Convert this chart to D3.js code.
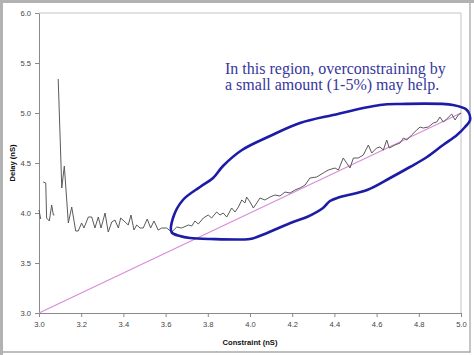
<!DOCTYPE html>
<html><head><meta charset="utf-8">
<script src="https://cdn.jsdelivr.net/npm/d3@7"></script>
<style>html,body{margin:0;padding:0;background:#fff;}svg{display:block;}</style>
</head><body>
<script>
// ---- data ----
const xTicks = [3.0,3.2,3.4,3.6,3.8,4.0,4.2,4.4,4.6,4.8,5.0];
const yTicks = [3.0,3.5,4.0,4.5,5.0,5.5,6.0];
const constraint = [3.000,3.008,null,3.020,3.032,3.036,3.049,3.060,3.068,3.073,null,
3.091,3.108,3.120,3.139,3.155,3.174,3.186,3.202,3.213,3.234,3.250,3.265,3.281,3.294,3.313,3.328,3.345,3.360,3.376,3.387,
3.408,3.423,3.436,3.450,3.463,3.479,3.494,3.513,3.529,3.545,3.565,3.582,3.605,3.629,3.653,3.676,3.708,3.724,3.739,3.755,
3.779,3.802,3.818,3.842,3.858,3.873,3.890,3.913,3.929,3.945,3.961,3.976,3.984,4.000,4.016,4.032,4.047,4.071,4.095,4.118,
4.142,4.166,4.190,4.213,4.237,4.261,4.284,4.316,4.347,4.371,4.403,4.419,4.442,4.458,4.474,4.490,4.513,4.537,4.561,4.577,
4.600,4.616,4.632,4.648,4.660,4.687,4.711,4.727,4.743,4.766,4.790,4.806,4.821,4.845,4.869,4.885,4.900,4.916,4.932,4.956,
4.972,4.987,5.000];
const delay = [4.03,3.94,null,4.31,4.30,3.95,3.92,4.08,3.98,3.98,null,
5.34,4.25,4.47,3.90,4.06,3.82,3.82,3.90,3.85,3.96,3.96,3.85,3.96,3.85,4.00,3.81,3.91,3.93,3.85,3.95,
3.91,3.88,3.98,3.83,3.88,3.85,3.85,3.94,3.85,3.92,3.83,3.85,3.85,3.81,3.86,3.85,3.88,3.87,3.92,3.89,
3.95,3.98,3.95,4.01,3.98,4.00,3.96,4.05,4.01,4.06,4.13,4.10,4.16,4.11,4.05,4.10,4.15,4.13,4.16,4.18,
4.17,4.21,4.20,4.23,4.25,4.28,4.35,4.36,4.40,4.43,4.45,4.43,4.55,4.50,4.45,4.55,4.55,4.58,4.68,4.60,
4.65,4.66,4.63,4.73,4.65,4.68,4.70,4.75,4.73,4.78,4.83,4.86,4.85,4.86,4.90,4.91,4.96,4.91,4.94,4.99,
4.93,4.98,5.00];
const idealX = [3.0,5.0];
const idealY = [3.0,5.0];
// hand-drawn highlight loop, in data units
const loopX = [3.628,3.635,3.682,3.763,3.825,3.872,3.962,4.095,4.237,4.393,4.616,4.711,4.962,5.028,5.043,5.019,4.981,4.915,4.839,4.758,4.664,4.555,4.427,4.379,4.346,4.270,4.204,4.081,4.033,4.000,3.810,3.716,3.668];
const loopY = [3.81,3.95,4.13,4.26,4.35,4.47,4.63,4.77,4.90,4.98,5.08,5.09,5.08,5.03,4.93,4.86,4.78,4.68,4.56,4.46,4.35,4.23,4.16,4.12,4.05,3.96,3.91,3.80,3.76,3.74,3.74,3.75,3.77];
const noteLines = ["In this region, overconstraining by","a small amount (1-5%) may help."];

// ---- drawing ----
const W = 474, H = 355;
const svg = d3.select("body").append("svg").attr("width", W).attr("height", H);
svg.append("rect").attr("width", W).attr("height", H).attr("fill", "#fff");

// outer frame
svg.append("rect").attr("x",0).attr("y",0).attr("width",W).attr("height",3).attr("fill","#b2b2b2");
svg.append("rect").attr("x",0).attr("y",0).attr("width",3).attr("height",H).attr("fill","#b2b2b2");
svg.append("line").attr("x1",470).attr("x2",470).attr("y1",3).attr("y2",352.5).attr("stroke","#a8a8a8").attr("stroke-width",1.3);
svg.append("line").attr("x1",3).attr("x2",470.6).attr("y1",352).attr("y2",352).attr("stroke","#a8a8a8").attr("stroke-width",1.3);

const x = d3.scaleLinear().domain([3.0,5.0]).range([39,461]);
const y = d3.scaleLinear().domain([3.0,6.0]).range([313,13]);

// plot area border (top/right)
svg.append("path").attr("d", `M${x(3.0)},${y(6.0)}H${x(5.0)}V${y(3.0)}`)
  .attr("fill","none").attr("stroke","#c4c4c4").attr("stroke-width",1);

const tickFont = "Arial, 'Liberation Sans', sans-serif";
const xAxis = svg.append("g").attr("transform",`translate(0,${y(3.0)})`)
  .call(d3.axisBottom(x).tickValues(xTicks).tickFormat(d3.format(".1f")).tickSize(4).tickSizeOuter(0).tickPadding(5));
const yAxis = svg.append("g").attr("transform",`translate(${x(3.0)},0)`)
  .call(d3.axisLeft(y).tickValues(yTicks).tickFormat(d3.format(".1f")).tickSize(4).tickSizeOuter(0).tickPadding(4));
[xAxis,yAxis].forEach(g=>{
  g.select(".domain").attr("stroke","#8a8a8a");
  g.selectAll(".tick line").attr("stroke","#8a8a8a");
  g.selectAll(".tick text").attr("fill","#444").style("font-family",tickFont).style("font-size","7.6px");
});

// ideal line y = x
svg.append("path").datum(idealX.map((d,i)=>[d,idealY[i]]))
  .attr("d", d3.line().x(d=>x(d[0])).y(d=>y(d[1])))
  .attr("fill","none").attr("stroke","#d98ad9").attr("stroke-width",1.1);

// measured series
const pts = constraint.map((d,i)=>[d,delay[i]]);
svg.append("path").datum(pts)
  .attr("d", d3.line().defined(d=>d[0]!==null && d[1]!==null).x(d=>x(d[0])).y(d=>y(d[1])))
  .attr("fill","none").attr("stroke","#5a5a5a").attr("stroke-width",1);

// highlight loop
svg.append("path").datum(loopX.map((d,i)=>[d,loopY[i]]))
  .attr("d", d3.line().curve(d3.curveCatmullRomClosed.alpha(0.5)).x(d=>x(d[0])).y(d=>y(d[1])))
  .attr("fill","none").attr("stroke","#1c1ca6").attr("stroke-width",2.6).attr("stroke-linejoin","round");

// annotation
const note = svg.append("text").attr("x",225).attr("y",74)
  .attr("fill","#37379c").style("font-family","'Times New Roman','Liberation Serif',serif").style("font-size","16px");
note.selectAll("tspan").data(noteLines).join("tspan")
  .attr("x",225).attr("dy",(d,i)=>i===0?0:15.5).text(d=>d);

// axis titles
svg.append("text").attr("x",(x(3.0)+x(5.0))/2).attr("y",345).attr("text-anchor","middle")
  .style("font-family",tickFont).style("font-size","7.6px").style("font-weight","bold").attr("fill","#111")
  .text("Constraint (nS)");
svg.append("text").attr("transform",`translate(15,${(y(3.0)+y(6.0))/2}) rotate(-90)`).attr("text-anchor","middle")
  .style("font-family",tickFont).style("font-size","7.6px").style("font-weight","bold").attr("fill","#111")
  .text("Delay (nS)");
</script>
</body></html>
